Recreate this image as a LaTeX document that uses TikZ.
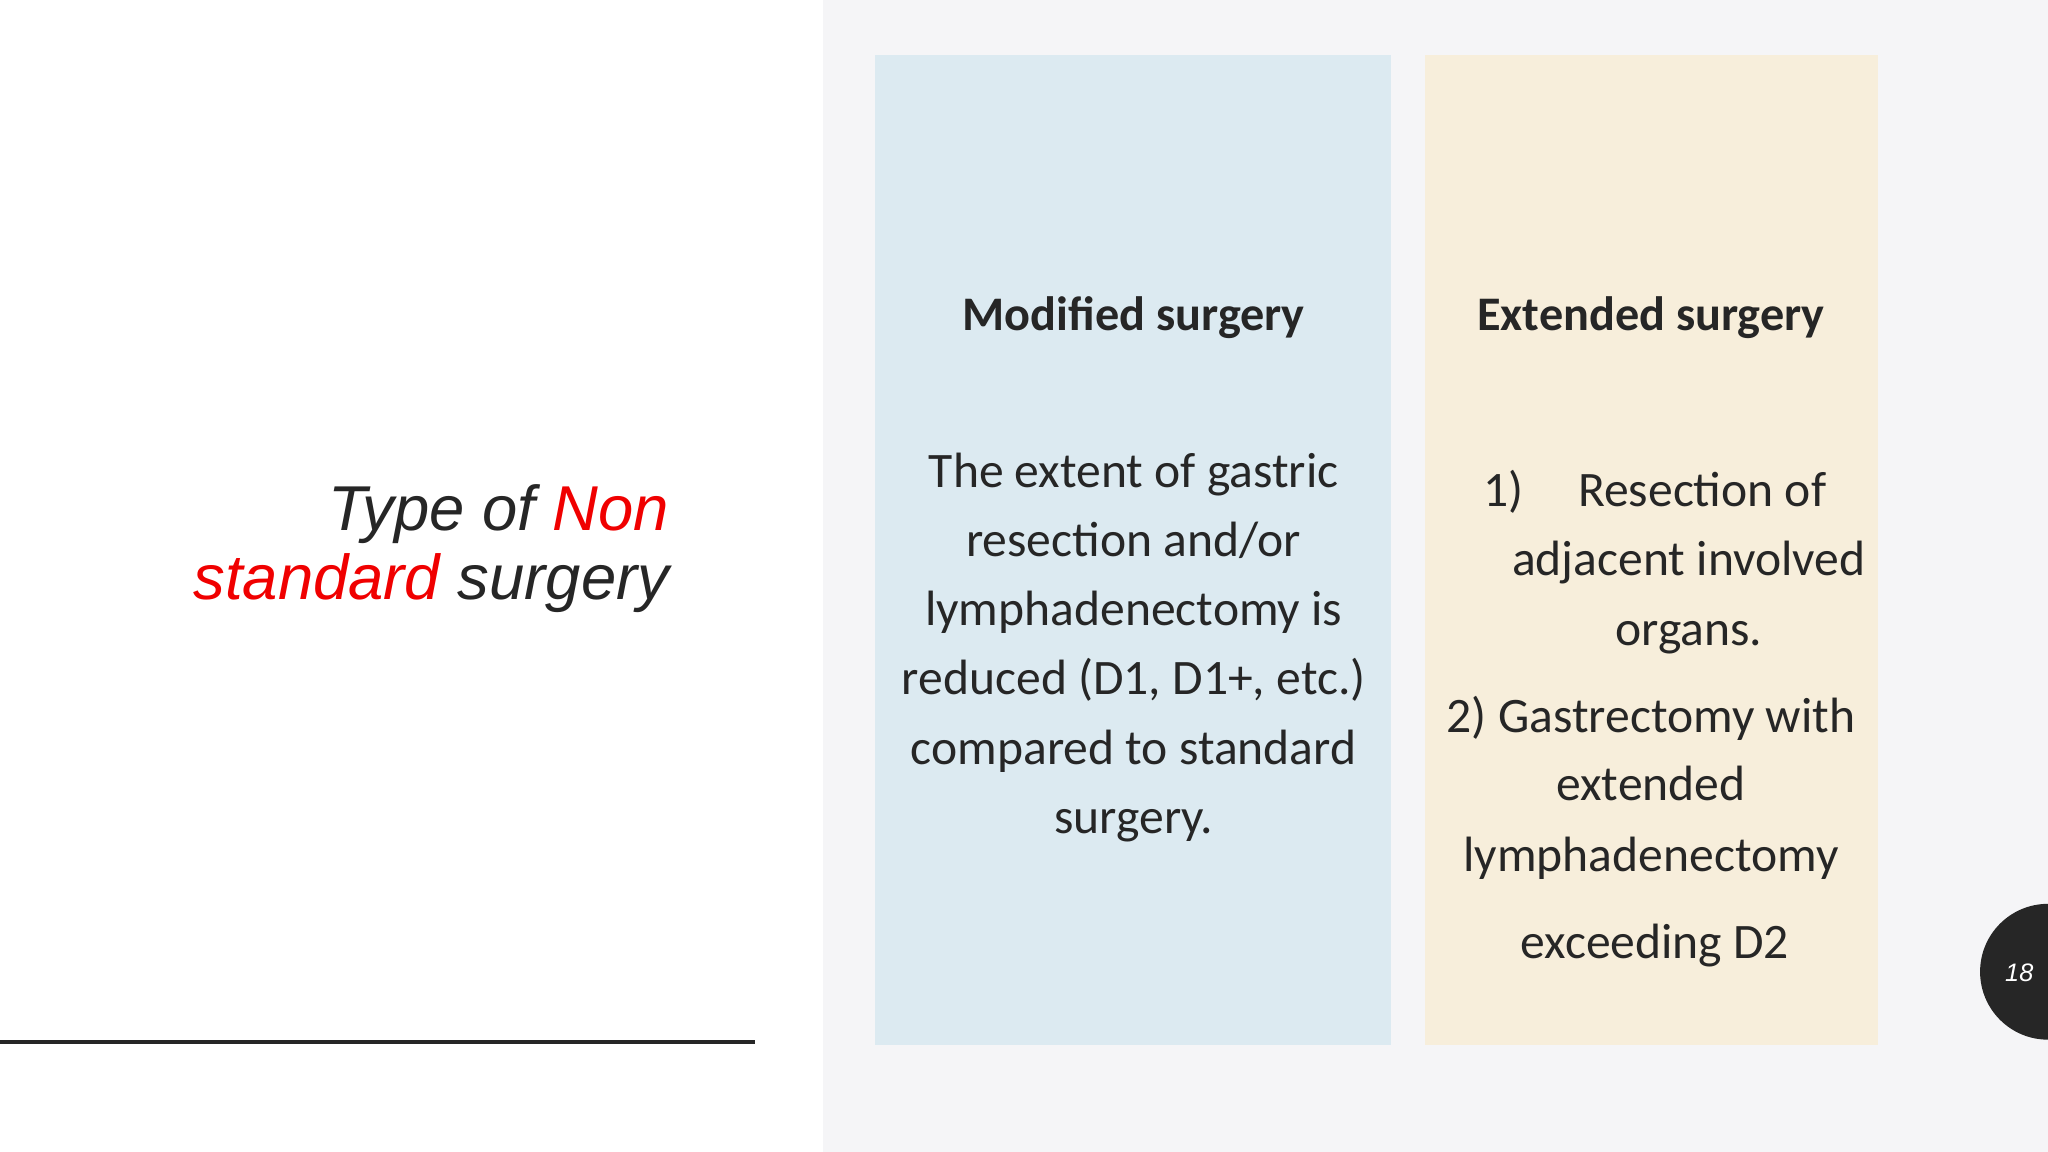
\documentclass[tikz,border=0pt]{standalone}
\usepackage{fontspec}
\setmainfont{Carlito}
\newfontfamily\arialf{Liberation Sans}
\definecolor{bgR}{HTML}{F5F5F7}
\definecolor{boxB}{HTML}{DCEAF1}
\definecolor{boxY}{HTML}{F7EEDB}
\definecolor{txt}{HTML}{262626}
\definecolor{redT}{HTML}{F00000}
\begin{document}
\begin{tikzpicture}[x=0.01cm,y=-0.01cm,
  body/.style={text=txt,font=\fontsize{10.8}{12}\selectfont,inner sep=0pt,anchor=base},
  head/.style={text=txt,font=\fontsize{10.5}{12}\selectfont\bfseries,inner sep=0pt,anchor=base}]
\useasboundingbox (0,0) rectangle (1568,882);
\fill[white] (0,0) rectangle (630,882);
\fill[bgR] (630,0) rectangle (1568,882);
\fill[boxB] (670,42) rectangle (1065,800);
\fill[boxY] (1091,42) rectangle (1438,800);
\draw[txt,line width=0.03cm] (0,798) -- (578,798);
\node[anchor=base east,inner sep=0pt,font=\arialf\itshape\fontsize{13.8}{15}\selectfont,text=txt] (t1) at (513,406) {Type of \textcolor{redT}{Non}};
\node[anchor=base east,inner sep=0pt,font=\arialf\itshape\fontsize{13.8}{15}\selectfont,text=txt] (t2) at (513,459) {\textcolor{redT}{standard} surgery};
\node[head] (h1) at (868,253) {Modified surgery};
\node[head] (h2) at (1264,253) {Extended surgery};
\node[body] (a1) at (868,373) {The extent of gastric};
\node[body] (a2) at (868,426) {resection and/or};
\node[body] (a3) at (868,479) {lymphadenectomy is};
\node[body] (a4) at (868,532) {reduced (D1, D1+, etc.)};
\node[body] (a5) at (868,585) {compared to standard};
\node[body] (a6) at (868,638) {surgery.};
\node[body,anchor=base west] (b1) at (1135,388) {1)\hspace{1.1em}Resection of};
\node[body] (b2) at (1293,441) {adjacent involved};
\node[body] (b3) at (1293,494) {organs.};
\node[body] (b4) at (1264,561) {2) Gastrectomy with};
\node[body] (b5) at (1264,613) {extended};
\node[body] (b6) at (1264,667) {lymphadenectomy};
\node[body] (b7) at (1267,734) {exceeding D2};
\fill[txt] (1568,744) circle (52);
\node[text=white,font=\arialf\itshape\fontsize{5.5}{6}\selectfont] (pg) at (1546,745) {18};
\end{tikzpicture}
\end{document}
